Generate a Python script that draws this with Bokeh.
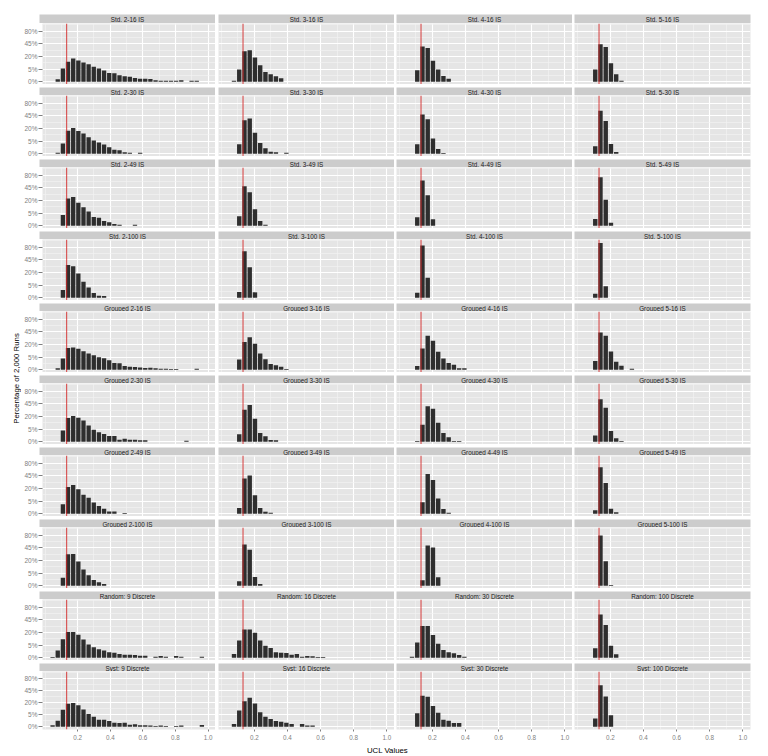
import numpy as np
from bokeh.plotting import figure
from bokeh.layouts import row, column
from bokeh.models import (Range1d, FixedTicker, LinearAxis, CustomJSTickFormatter,
                          Span, Label, ColumnDataSource)
from bokeh.embed import file_html
from bokeh.resources import INLINE
from bokeh.core.validation import silence
from bokeh.core.validation.warnings import MISSING_RENDERERS

silence(MISSING_RENDERERS, True)

# ---------------- data (percent of 2,000 runs per UCL bin, bin 0 first) ----------------
BIN_FIRST_CENTER = 0.046
BIN_WIDTH = 0.0316
TRUE_VALUE = 0.132

std_2_16 = [0, 0.2, 5.4, 12.4, 16.9, 14.1, 11.6, 9.6, 6.9, 5.4, 3.9, 2.4, 2.2, 1.3, 0.9, 0.8,
            0.43, 0.29, 0.29, 0.23, 0.06, 0.03, 0.03, 0.03, 0.03, 0.06, 0, 0.03, 0.03]
std_3_16 = [0, 0.03, 4.6, 29, 31, 18.4, 8.5, 3.0, 1.8, 0.9, 0.4]
std_4_16 = [0, 0, 4.1, 38.5, 35.6, 13.7, 4.6, 1.0, 0.29]
std_5_16 = [0, 0, 4.6, 43.8, 37.7, 10.8, 1.7, 0.03]

std_2_30 = [0, 0.03, 3.2, 16.4, 20.5, 16, 12.8, 8.5, 5.4, 3.9, 2.6, 1.3, 0.5, 0.36, 0.06, 0.03, 0, 0.03]
std_3_30 = [0, 0, 2.8, 34.8, 38.5, 13.7, 3.6, 0.9, 0.13, 0.06, 0, 0.03]
std_4_30 = [0, 0, 2.8, 47.8, 37, 7.2, 0.7, 0.02]
std_5_30 = [0, 0, 1.7, 57.4, 33.5, 3.0, 0.09]

std_2_49 = [0, 0, 3.6, 23.3, 25.7, 16.4, 10.8, 6.3, 2.4, 2.0, 0.7, 0.36, 0.09, 0.03, 0, 0, 0.03]
std_3_49 = [0, 0, 2.8, 48.7, 34.8, 8.5, 0.7, 0.03]
std_4_49 = [0, 0, 2.2, 63.9, 28.8, 1.3]
std_5_49 = [0, 0, 1.4, 73.7, 21.1, 0.29]

std_2_100 = [0, 0, 1.9, 33.5, 30.8, 18.4, 7.9, 3.2, 0.7, 0.13, 0.09]
std_3_100 = [0, 0, 1.0, 67.7, 28.8, 0.9]
std_4_100 = [0, 0, 0.8, 85.4, 12.4]
std_5_100 = [0, 0, 0.5, 93.3, 4.1]

grp_2_16 = [0, 0.06, 3.9, 14.6, 15.5, 13.7, 10.8, 8.2, 6.6, 4.9, 4.1, 2.8, 1.4, 1.3, 0.43, 0.29,
            0.23, 0.17, 0.09, 0.13, 0.06, 0.03, 0.03, 0.02, 0.02, 0, 0, 0, 0.03]
grp_3_16 = [0, 0, 3.2, 23.9, 32.8, 21, 8.2, 3.4, 1.0, 0.6, 0.29, 0.02]
grp_4_16 = [0, 0, 0.43, 14.1, 36.3, 26.3, 10, 3.9, 1.4, 0.8, 0.06, 0.06]
grp_5_16 = [0, 0, 2.4, 43, 36.3, 10.4, 2.0, 0.5, 0, 0.03]

grp_2_30 = [0, 0, 3.9, 17.4, 20.5, 17.9, 14.1, 8.2, 4.4, 2.8, 1.9, 1.0, 1.0, 0.13, 0.29, 0.13,
            0.13, 0.06, 0.06, 0, 0, 0, 0, 0, 0, 0, 0.03]
grp_3_30 = [0, 0, 1.7, 32.1, 42.2, 16.4, 2.4, 0.9, 0.09, 0.06]
grp_4_30 = [0, 0, 0.02, 8.9, 39.2, 34.1, 11.2, 2.4, 0.6, 0.02, 0.02]
grp_5_30 = [0, 0, 1.2, 56.4, 36.3, 3.6, 0.36, 0.02]

grp_2_49 = [0, 0, 2.8, 22.2, 25.7, 18.9, 11.2, 7.9, 3.9, 1.9, 0.8, 0.17, 0.17, 0, 0.02]
grp_3_49 = [0, 0, 1.0, 38.5, 45.4, 10.8, 1.0, 0.13, 0.03]
grp_4_49 = [0, 0, 0, 4.1, 49.5, 35.6, 7.2, 0.7, 0.03]
grp_5_49 = [0, 0, 0.36, 67.7, 29.4, 0.8, 0.06]

grp_2_100 = [0, 0, 2.0, 30.8, 31.4, 18.4, 8.2, 3.4, 1.0, 0.36, 0.09]
grp_3_100 = [0, 0, 0.6, 52.9, 40.7, 2.4, 0.09]
grp_4_100 = [0, 0, 0, 0.9, 50.4, 45.4, 2.2]
grp_5_100 = [0, 0, 0, 78.9, 18.9, 0.02]

rnd_9 = [0.02, 1.6, 10.8, 20.5, 20.5, 16.4, 10.4, 5.4, 3.4, 2.2, 1.6, 0.9, 0.8, 0.43, 0.29, 0.29,
         0.23, 0.13, 0.13, 0, 0.03, 0.09, 0.03, 0, 0.09, 0.03, 0, 0, 0, 0.03]
rnd_16 = [0, 0.43, 9.2, 25.1, 25.1, 19.5, 9.2, 4.4, 3.0, 0.9, 0.8, 0.7, 0.29, 0.43, 0.03, 0.09,
          0.06, 0.02, 0.02]
rnd_30 = [0, 0.03, 7.2, 31.4, 31.4, 16, 6, 1.9, 0.9, 0.6, 0.23, 0.03]
rnd_100 = [0, 0, 2.8, 58.3, 33.5, 4.4, 0.36]

syst_9 = [0.09, 1.3, 10, 18.4, 19.5, 16, 10.4, 5.7, 3.6, 1.7, 1.7, 1.2, 0.6, 0.5, 0.6, 0.17,
          0.23, 0.09, 0.09, 0.06, 0.03, 0.06, 0.03, 0, 0.03, 0.06, 0, 0, 0, 0.13]
syst_16 = [0, 0.29, 9.2, 22.8, 29.4, 18.9, 7.5, 3.6, 2.2, 1.2, 0.9, 0.6, 0.29, 0, 0.29, 0.06, 0.06]
syst_30 = [0, 0, 6.3, 33.5, 31.4, 15, 6.9, 1.7, 1.3, 0.5, 0.5]
syst_100 = [0, 0, 2.4, 60, 32.1, 4.6]

PANEL_TITLES = [
    ["Std. 2-16 IS", "Std. 3-16 IS", "Std. 4-16 IS", "Std. 5-16 IS"],
    ["Std. 2-30 IS", "Std. 3-30 IS", "Std. 4-30 IS", "Std. 5-30 IS"],
    ["Std. 2-49 IS", "Std. 3-49 IS", "Std. 4-49 IS", "Std. 5-49 IS"],
    ["Std. 2-100 IS", "Std. 3-100 IS", "Std. 4-100 IS", "Std. 5-100 IS"],
    ["Grouped 2-16 IS", "Grouped 3-16 IS", "Grouped 4-16 IS", "Grouped 5-16 IS"],
    ["Grouped 2-30 IS", "Grouped 3-30 IS", "Grouped 4-30 IS", "Grouped 5-30 IS"],
    ["Grouped 2-49 IS", "Grouped 3-49 IS", "Grouped 4-49 IS", "Grouped 5-49 IS"],
    ["Grouped 2-100 IS", "Grouped 3-100 IS", "Grouped 4-100 IS", "Grouped 5-100 IS"],
    ["Random: 9 Discrete", "Random: 16 Discrete", "Random: 30 Discrete", "Random: 100 Discrete"],
    ["Syst: 9 Discrete", "Syst: 16 Discrete", "Syst: 30 Discrete", "Syst: 100 Discrete"],
]
PANEL_DATA = [
    [std_2_16, std_3_16, std_4_16, std_5_16],
    [std_2_30, std_3_30, std_4_30, std_5_30],
    [std_2_49, std_3_49, std_4_49, std_5_49],
    [std_2_100, std_3_100, std_4_100, std_5_100],
    [grp_2_16, grp_3_16, grp_4_16, grp_5_16],
    [grp_2_30, grp_3_30, grp_4_30, grp_5_30],
    [grp_2_49, grp_3_49, grp_4_49, grp_5_49],
    [grp_2_100, grp_3_100, grp_4_100, grp_5_100],
    [rnd_9, rnd_16, rnd_30, rnd_100],
    [syst_9, syst_16, syst_30, syst_100],
]
Y_TICK_PCT = [0, 5, 20, 45, 80]
X_TICKS = [0.2, 0.4, 0.6, 0.8, 1.0]
X_MINOR = [0.0, 0.1, 0.3, 0.5, 0.7, 0.9]

# ---------------- layout / style ----------------
FONT = "Liberation Sans"
FW, STRIP_H, FH, GAP, TOP = 176, 9, 61, 2, 14
LEFT_B = [18, 3, 2, 2]
RIGHT_B = [0, 0, 0, 3]
XAX_H, XLAB_H, YLAB_W = 10, 13, 21
X_RANGE = (-0.016, 1.046)
Y_RANGE = (-0.049, 1.029)   # sqrt(fraction) space

ysq = [float(np.sqrt(v / 100.0)) for v in Y_TICK_PCT]
step = ysq[1] - ysq[0]
y_minor = [a + step / 2 for a in ysq]
yticker = FixedTicker(ticks=ysq, minor_ticks=y_minor)
xticker = FixedTicker(ticks=X_TICKS, minor_ticks=X_MINOR)
yfmt = CustomJSTickFormatter(code="return Math.round(tick*tick*100) + '%';")
xfmt = CustomJSTickFormatter(code="return tick.toFixed(1);")

n_rows = len(PANEL_TITLES)
rows_layout = []
for r in range(n_rows):
    strip_figs, panel_figs = [], []
    for c in range(4):
        top_b = TOP if r == 0 else GAP
        s = figure(width=LEFT_B[c] + FW + RIGHT_B[c], height=top_b + STRIP_H,
                   x_range=Range1d(0, 1), y_range=Range1d(0, 1),
                   x_axis_location=None, y_axis_location=None,
                   min_border_left=LEFT_B[c], min_border_right=RIGHT_B[c],
                   min_border_top=top_b, min_border_bottom=0,
                   background_fill_color="#CCCCCC", border_fill_color="white",
                   outline_line_color=None, toolbar_location=None, output_backend="svg")
        s.xgrid.visible = False
        s.ygrid.visible = False
        s.add_layout(Label(x=0.5, y=0.45, text=PANEL_TITLES[r][c], text_align="center",
                           text_baseline="middle", text_font=FONT, text_font_size="6.3px",
                           text_color="#1A1A1A"))
        strip_figs.append(s)

        last = (r == n_rows - 1)
        bottom_b = XAX_H if last else 0
        p = figure(width=LEFT_B[c] + FW + RIGHT_B[c], height=FH + bottom_b,
                   x_range=Range1d(*X_RANGE), y_range=Range1d(*Y_RANGE),
                   x_axis_location=None, y_axis_location=None,
                   min_border_left=LEFT_B[c], min_border_right=RIGHT_B[c],
                   min_border_top=0, min_border_bottom=bottom_b,
                   background_fill_color="#E5E5E5", border_fill_color="white",
                   outline_line_color=None, toolbar_location=None, output_backend="svg")
        p.xgrid.ticker = xticker
        p.ygrid.ticker = yticker
        for g in (p.xgrid, p.ygrid):
            g.grid_line_color = "white"
            g.grid_line_width = 1.1
            g.minor_grid_line_color = "#F4F4F4"
            g.minor_grid_line_width = 0.6

        vals = np.array(PANEL_DATA[r][c], dtype=float)
        centers = BIN_FIRST_CENTER + BIN_WIDTH * np.arange(len(vals))
        keep = vals > 0
        src = ColumnDataSource(dict(x=centers[keep], top=np.sqrt(vals[keep] / 100.0)))
        p.vbar(x="x", top="top", bottom=0, width=BIN_WIDTH * 0.84, source=src,
               fill_color="#2E2E2E", line_color=None)
        p.add_layout(Span(location=TRUE_VALUE, dimension="height", line_color="#D42A2A",
                          line_alpha=0.75, line_width=1.2))

        if c == 0:
            ya = LinearAxis(ticker=yticker, formatter=yfmt)
            ya.axis_line_color = None
            ya.major_tick_line_color = "#7F7F7F"
            ya.major_tick_in = 0
            ya.major_tick_out = 4
            ya.minor_tick_line_color = None
            ya.major_label_standoff = 1
            ya.major_label_text_font = FONT
            ya.major_label_text_font_size = "6.5px"
            ya.major_label_text_color = "#7F7F7F"
            p.add_layout(ya, "left")
        if last:
            xa = LinearAxis(ticker=xticker, formatter=xfmt)
            xa.axis_line_color = None
            xa.major_tick_line_color = "#7F7F7F"
            xa.major_tick_in = 0
            xa.major_tick_out = 2
            xa.minor_tick_line_color = None
            xa.major_label_standoff = 1
            xa.major_label_text_font = FONT
            xa.major_label_text_font_size = "6.3px"
            xa.major_label_text_color = "#7F7F7F"
            p.add_layout(xa, "below")
        panel_figs.append(p)
    rows_layout.append(row(*strip_figs, spacing=0))
    rows_layout.append(row(*panel_figs, spacing=0))

grid_w = sum(LEFT_B) + 4 * FW + sum(RIGHT_B)
total_h = TOP + n_rows * (STRIP_H + FH) + (n_rows - 1) * GAP + XAX_H + XLAB_H

xlab = figure(width=grid_w, height=XLAB_H, x_range=Range1d(0, grid_w), y_range=Range1d(0, XLAB_H),
              x_axis_location=None, y_axis_location=None, min_border=0,
              outline_line_color=None, toolbar_location=None, output_backend="svg")
xlab.xgrid.visible = False
xlab.ygrid.visible = False
xlab.add_layout(Label(x=387 - YLAB_W, y=XLAB_H - 8, text="UCL Values", text_align="center",
                      text_baseline="middle", text_font=FONT, text_font_size="7.8px",
                      text_color="black"))

ylab = figure(width=YLAB_W, height=total_h, x_range=Range1d(0, YLAB_W), y_range=Range1d(0, total_h),
              x_axis_location=None, y_axis_location=None, min_border=0,
              outline_line_color=None, toolbar_location=None, output_backend="svg")
ylab.xgrid.visible = False
ylab.ygrid.visible = False
ylab.add_layout(Label(x=16, y=total_h - 378, text="Percentage of 2,000 Runs", angle=np.pi / 2,
                      text_align="center", text_baseline="middle", text_font=FONT,
                      text_font_size="7.8px", text_color="black"))

layout = row(ylab, column(*rows_layout, xlab, spacing=0), spacing=0)

open("out.html", "w").write(file_html(layout, INLINE))
